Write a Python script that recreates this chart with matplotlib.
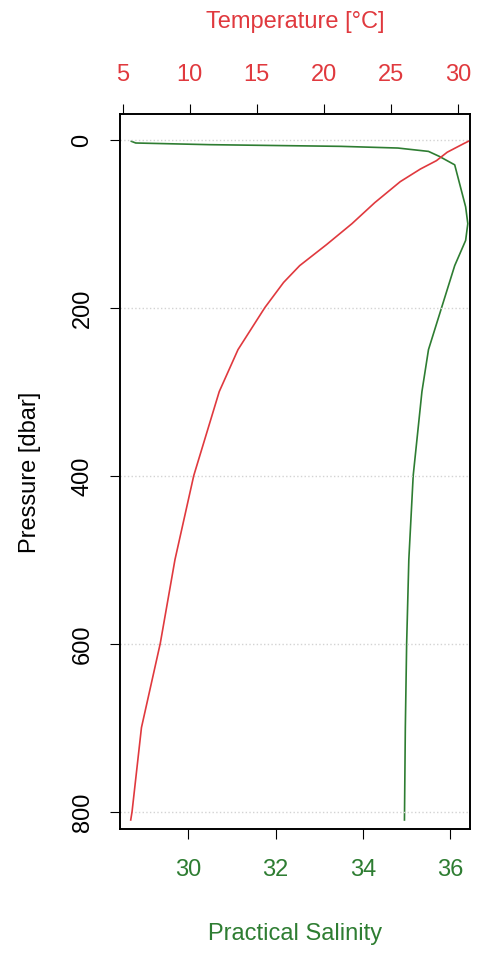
import matplotlib
matplotlib.use("Agg")
import matplotlib.pyplot as plt
plt.rcParams['font.family'] = ['Liberation Sans', 'DejaVu Sans']

pres_t = [1, 5, 15, 25, 35, 50, 75, 100, 125, 150, 170, 200, 250, 300, 400, 500, 600, 700, 800, 810]
temp = [30.9, 30.4, 29.2, 28.4, 27.2, 25.7, 23.8, 22.1, 20.2, 18.2, 17.0, 15.6, 13.6, 12.2, 10.3, 8.9, 7.8, 6.4, 5.7, 5.6]
pres_s = [2, 4, 6, 8, 10, 14, 20, 30, 50, 80, 100, 120, 150, 200, 250, 300, 400, 500, 600, 700, 810]
sal = [28.7, 28.8, 30.5, 33.5, 34.8, 35.5, 35.75, 36.1, 36.2, 36.35, 36.4, 36.35, 36.1, 35.8, 35.5, 35.35, 35.15, 35.05, 35.0, 34.97, 34.95]

red = "#e0393e"
green = "#2e7d32"

fig = plt.figure(figsize=(5, 9.62), dpi=100)
ax = fig.add_axes([0.24, 0.137, 0.70, 0.743])
ax.plot(sal, pres_s, color=green, lw=1.2)
ax.set_xlim(28.44, 36.45)
ax.set_ylim(821, -30)
ax.set_xticks([30, 32, 34, 36])
ax.set_yticks([0, 200, 400, 600, 800])
ax.tick_params(axis='x', labelcolor=green, color='black', labelsize=17, length=7, pad=14)
ax.tick_params(axis='y', labelsize=17, length=7, pad=12)
for t in ax.get_yticklabels():
    t.set_rotation(90); t.set_va('center')
ax.set_xlabel("Practical Salinity", color=green, fontsize=17, labelpad=30)
ax.set_ylabel("Pressure [dbar]", fontsize=17, labelpad=22)
for y in [0, 200, 400, 600, 800]:
    ax.axhline(y, color="lightgray", ls=":", lw=1)
ax2 = ax.twiny()
ax2.plot(temp, pres_t, color=red, lw=1.2)
ax2.set_xlim(4.8, 30.9)
ax2.set_xticks([5, 10, 15, 20, 25, 30])
ax2.tick_params(axis='x', labelcolor=red, color='black', labelsize=17, length=7, pad=14)
ax2.set_xlabel("Temperature [°C]", color=red, fontsize=17, labelpad=26)
for a in (ax, ax2):
    for s in a.spines.values():
        s.set_color("black"); s.set_linewidth(1.2)
fig.savefig("out.png", dpi=100)
